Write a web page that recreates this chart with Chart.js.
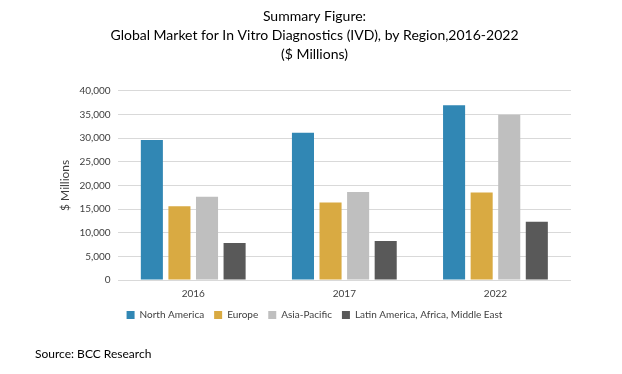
<!DOCTYPE html>
<html>
<head>
<meta charset="utf-8">
<script src="https://cdn.jsdelivr.net/npm/chart.js@4"></script>
<style>
  body { margin: 0; background: #fff; }
  #wrap { position: relative; width: 622px; height: 374px; }
  #source { position: absolute; left: 35px; top: 346px; font: 12px Lato, sans-serif; color: #000; }
</style>
</head>
<body>
<div id="wrap">
  <canvas id="myChart" width="622" height="374"></canvas>
  <div id="source">Source: BCC Research</div>
</div>
<script>
var years = ["2016", "2017", "2022"];
var northAmerica = [29600, 31100, 36900];
var europe = [15600, 16400, 18500];
var asiaPacific = [17600, 18600, 34900];
var latAmAfricaME = [7800, 8250, 12300];

var ctx = document.getElementById("myChart").getContext("2d");
var myBarChart = new Chart(ctx, {
  type: "bar",
  data: {
    labels: years,
    datasets: [
      { label: "North America", data: northAmerica, backgroundColor: "#3187b4" },
      { label: "Europe", data: europe, backgroundColor: "#d9aa42" },
      { label: "Asia-Pacific", data: asiaPacific, backgroundColor: "#bfbfbf" },
      { label: "Latin America, Africa, Middle East", data: latAmAfricaME, backgroundColor: "#595959" }
    ]
  },
  options: {
    responsive: false,
    animation: false,
    datasets: {
      bar: { categoryPercentage: 0.73, barPercentage: 0.8 }
    },
    layout: { padding: { left: 58, right: 51, top: 0, bottom: 44 } },
    plugins: {
      title: {
        display: true,
        text: ["Summary Figure:", "Global Market for In Vitro Diagnostics (IVD), by Region,2016-2022", "($ Millions)"],
        color: "#000",
        font: { family: "Lato, sans-serif", size: 14, weight: "normal", lineHeight: 1.35 },
        padding: { top: 7, bottom: 27 }
      },
      legend: {
        position: "bottom",
        labels: {
          color: "#404040",
          font: { family: "Lato, sans-serif", size: 10 },
          boxWidth: 8,
          boxHeight: 8,
          padding: 10
        }
      },
      tooltip: { enabled: false }
    },
    scales: {
      x: {
        grid: { display: false },
        border: { display: false },
        ticks: { color: "#404040", padding: 0, font: { family: "Lato, sans-serif", size: 10 } }
      },
      y: {
        min: 0,
        max: 40000,
        ticks: {
          stepSize: 5000,
          color: "#404040",
          padding: 7,
          font: { family: "Lato, sans-serif", size: 10 },
          callback: function(v) { return v.toLocaleString("en-US"); }
        },
        grid: { color: "#d9d9d9", drawTicks: false },
        border: { display: false },
        title: {
          display: true,
          text: "$ Millions",
          color: "#404040",
          font: { family: "Lato, sans-serif", size: 12 },
          padding: { top: 0, bottom: 0 }
        }
      }
    }
  }
});
</script>
</body>
</html>
